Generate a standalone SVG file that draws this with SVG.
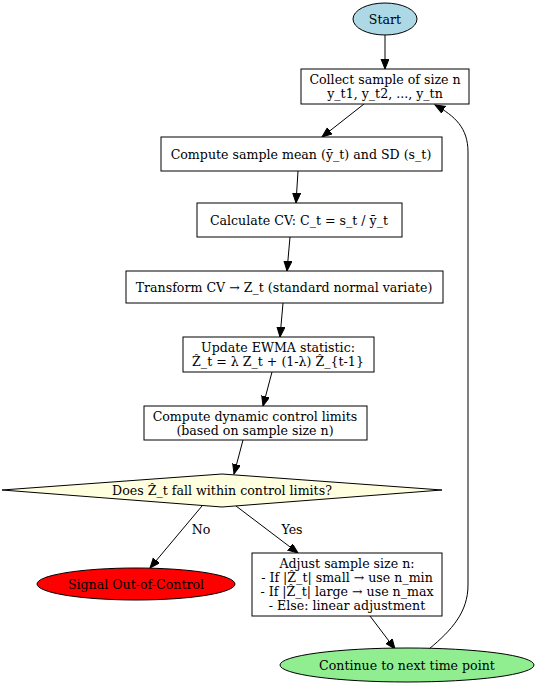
<svg xmlns="http://www.w3.org/2000/svg" width="537" height="685" viewBox="0 0 537 685">
<style>
text{font-family:"DejaVu Serif","Liberation Serif",serif;font-size:12.6px;fill:#000;text-anchor:middle;dominant-baseline:central}
.box{fill:#fff;stroke:#000;stroke-width:1}
.edge{fill:none;stroke:#000;stroke-width:1}
</style>
<defs>
<marker id="ah" markerUnits="userSpaceOnUse" markerWidth="12" markerHeight="10" refX="10" refY="4" orient="auto">
<path d="M0,0 L10,4 L0,8 Z" fill="#000" stroke="#000"/>
</marker>
</defs>
<rect width="537" height="685" fill="#fff"/>
<g id="connectors">
<line class="edge" x1="385" y1="35" x2="385" y2="69" marker-end="url(#ah)"/>
<line class="edge" x1="364" y1="104" x2="322" y2="137" marker-end="url(#ah)"/>
<line class="edge" x1="298" y1="171" x2="296" y2="203" marker-end="url(#ah)"/>
<line class="edge" x1="290" y1="237" x2="287" y2="271" marker-end="url(#ah)"/>
<line class="edge" x1="283" y1="303" x2="280" y2="337" marker-end="url(#ah)"/>
<line class="edge" x1="272" y1="372" x2="263" y2="406" marker-end="url(#ah)"/>
<line class="edge" x1="243" y1="440" x2="234" y2="474" marker-end="url(#ah)"/>
<line class="edge" x1="202" y1="506" x2="150" y2="568" marker-end="url(#ah)"/>
<text x="201" y="529">No</text>
<line class="edge" x1="236" y1="506" x2="298" y2="553" marker-end="url(#ah)"/>
<text x="292" y="529">Yes</text>
<line class="edge" x1="370" y1="616" x2="395" y2="649" marker-end="url(#ah)"/>
<path class="edge" d="M429,649 C452,630 468,612 468,585 L468,152 C468,128 455,116 435,105" marker-end="url(#ah)"/>
</g>
<g id="start">
<ellipse cx="385" cy="19" rx="32" ry="16" fill="#add8e6" stroke="#000"/>
<text x="385" y="19">Start</text>
</g>
<g id="collect">
<rect class="box" x="301" y="69" width="168" height="35"/>
<text x="385" y="79.5">Collect sample of size n</text>
<text x="385" y="93.5">y_t1, y_t2, ..., y_tn</text>
</g>
<g id="mean">
<rect class="box" x="161" y="137" width="281" height="34"/>
<text x="301" y="154">Compute sample mean (ȳ_t) and SD (s_t)</text>
</g>
<g id="cv">
<rect class="box" x="197" y="203" width="205" height="34"/>
<text x="299" y="220">Calculate CV: C_t = s_t / ȳ_t</text>
</g>
<g id="transform">
<rect class="box" x="126" y="271" width="317" height="32"/>
<text x="284" y="287">Transform CV → Z_t (standard normal variate)</text>
</g>
<g id="ewma">
<rect class="box" x="183" y="337" width="191" height="35"/>
<text x="278" y="347.5">Update EWMA statistic:</text>
<text x="278" y="361.5">Ẑ_t = λ Z_t + (1-λ) Ẑ_{t-1}</text>
</g>
<g id="limits">
<rect class="box" x="144" y="406" width="223" height="34"/>
<text x="255" y="416">Compute dynamic control limits</text>
<text x="255" y="430">(based on sample size n)</text>
</g>
<g id="decision">
<polygon points="2,490 222,474 442,490 222,507" fill="#ffffe0" stroke="#000"/>
<text x="222" y="490">Does Ẑ_t fall within control limits?</text>
</g>
<g id="signal">
<ellipse cx="136" cy="584" rx="99" ry="16" fill="#ff0000" stroke="#000"/>
<text x="136" y="584">Signal Out-of-Control</text>
</g>
<g id="adjust">
<rect class="box" x="252" y="553" width="190" height="63"/>
<text x="347" y="563">Adjust sample size n:</text>
<text x="347" y="577">- If |Ẑ_t| small → use n_min</text>
<text x="347" y="591">- If |Ẑ_t| large → use n_max</text>
<text x="347" y="605">- Else: linear adjustment</text>
</g>
<g id="continue">
<ellipse cx="407" cy="665" rx="127" ry="17" fill="#90ee90" stroke="#000"/>
<text x="407" y="665">Continue to next time point</text>
</g>
</svg>
